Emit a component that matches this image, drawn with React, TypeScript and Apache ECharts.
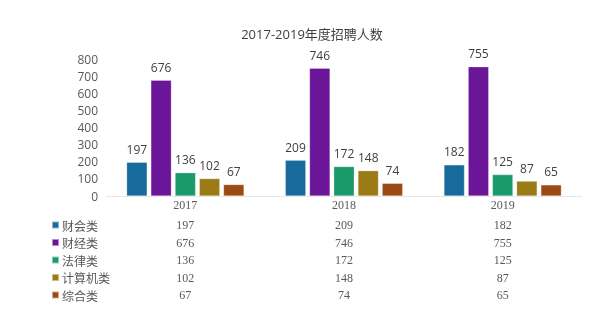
import React, { useEffect, useRef } from "react";
import * as echarts from "echarts";

const years = ["2017", "2018", "2019"];
const seriesNames = ["财会类", "财经类", "法律类", "计算机类", "综合类"];
const accounting = [197, 209, 182];
const finance = [676, 746, 755];
const law = [136, 172, 125];
const computing = [102, 148, 87];
const general = [67, 74, 65];
const seriesValues = [accounting, finance, law, computing, general];
const colors = ["#176a9c", "#6b1598", "#1a9a6a", "#9a7b15", "#9c4a15"];
const yTicks = [0, 100, 200, 300, 400, 500, 600, 700, 800];

// vertical offsets of the data-table rows under the category labels
const rowOffsets = [20, 38, 55, 73, 90];

export default function App() {
  const ref = useRef<HTMLDivElement>(null);

  useEffect(() => {
    if (!ref.current) return;
    const chart = echarts.init(ref.current, undefined, { renderer: "svg" });

    const tableAxes = seriesValues.map((vals, i) => ({
      type: "category" as const,
      data: years,
      gridIndex: 0,
      position: "bottom" as const,
      offset: rowOffsets[i],
      axisLine: { show: false },
      axisTick: { show: false },
      axisLabel: {
        margin: 3,
        color: "#595959",
        fontFamily: "Liberation Serif",
        fontSize: 12,
        formatter: (_v: string, idx: number) => String(vals[idx]),
      },
    }));

    chart.setOption({
      animation: false,
      title: {
        text: "2017-2019年度招聘人数",
        left: 307,
        top: 22,
        textAlign: "center",
        textStyle: {
          fontFamily: "Open Sans, Noto Sans CJK SC",
          fontSize: 13,
          fontWeight: "normal",
          color: "#404040",
        },
      },
      legend: {
        orient: "vertical",
        left: 46,
        top: 213,
        height: 110,
        icon: "rect",
        itemWidth: 7,
        itemHeight: 7,
        itemGap: 3.5,
        selectedMode: false,
        textStyle: {
          fontFamily: "Noto Sans CJK SC",
          fontSize: 12,
          lineHeight: 14,
          color: "#595959",
          padding: [0, 0, 0, -2],
        },
        data: seriesNames,
      },
      grid: { left: 106, top: 59, width: 476, height: 137, containLabel: false },
      xAxis: [
        {
          type: "category",
          data: years,
          axisLine: { lineStyle: { color: "#e6e6e6" } },
          axisTick: { show: false },
          axisLabel: {
            margin: 3,
            color: "#595959",
            fontFamily: "Liberation Serif",
            fontSize: 12,
          },
        },
        ...tableAxes,
      ],
      yAxis: {
        type: "value",
        min: yTicks[0],
        max: yTicks[yTicks.length - 1],
        interval: 100,
        axisLine: { show: false },
        axisTick: { show: false },
        splitLine: { show: false },
        axisLabel: {
          margin: 8,
          color: "#595959",
          fontFamily: "Open Sans",
          fontSize: 12,
        },
      },
      series: seriesValues.map((vals, i) => ({
        name: seriesNames[i],
        type: "bar",
        xAxisIndex: 0,
        data: vals,
        barGap: "18%",
        barCategoryGap: "26%",
        itemStyle: { color: colors[i], borderColor: "rgba(255,255,255,0.5)", borderWidth: 0.5 },
        label: {
          show: true,
          position: "top",
          distance: 7,
          color: "#404040",
          fontFamily: "Open Sans",
          fontSize: 12,
        },
      })),
    });

    return () => chart.dispose();
  }, []);

  return (
    <div
      ref={ref}
      style={{ position: "fixed", left: 0, top: 0, width: 606, height: 328 }}
    />
  );
}
